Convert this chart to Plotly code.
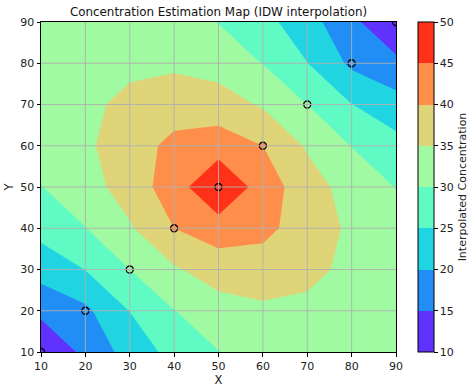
import numpy as np
import plotly.graph_objects as go

# sample points
pt_x = [10, 20, 30, 40, 50, 60, 70, 80, 90]
pt_y = [10, 20, 30, 40, 50, 60, 70, 80, 90]
pt_val = [10, 19, 30, 40, 50, 40, 30, 19, 10]
idw_power = 2.5

grid_x = [10, 20, 30, 40, 50, 60, 70, 80, 90]
grid_y = [10, 20, 30, 40, 50, 60, 70, 80, 90]
x_ticks = [10, 20, 30, 40, 50, 60, 70, 80, 90]
y_ticks = [10, 20, 30, 40, 50, 60, 70, 80, 90]
cbar_ticks = [10, 15, 20, 25, 30, 35, 40, 45, 50]
band_colors = ["rgb(96,50,254)", "rgb(32,142,244)", "rgb(32,212,225)", "rgb(96,250,197)",
               "rgb(159,250,162)", "rgb(223,212,120)", "rgb(255,142,74)", "rgb(255,50,25)"]

# IDW interpolation of the sample points onto the grid
px = np.array(pt_x, float); py = np.array(pt_y, float); pv = np.array(pt_val, float)
Z = np.zeros((len(grid_y), len(grid_x)))
for j, gy in enumerate(grid_y):
    for i, gx in enumerate(grid_x):
        d = np.sqrt((px - gx) ** 2 + (py - gy) ** 2)
        if np.any(d == 0):
            Z[j, i] = pv[d == 0][0]
        else:
            w = 1.0 / d ** idw_power
            Z[j, i] = np.sum(w * pv) / np.sum(w)

n = len(band_colors)
cs = []
for k, c in enumerate(band_colors):
    cs.append([k / n, c]); cs.append([(k + 1) / n, c])

fig = go.Figure()
fig.add_trace(go.Contour(
    x=grid_x, y=grid_y, z=Z, zmin=10, zmax=50, colorscale=cs,
    contours=dict(start=10, end=50, size=5, coloring="fill", showlines=False),
    line=dict(width=0, smoothing=0),
    colorbar=dict(thickness=16, len=1, lenmode="fraction", x=1.062, xanchor="left", xpad=0,
                  y=0.5, yanchor="middle", ypad=0,
                  tickvals=cbar_ticks, ticks="outside", ticklen=3.5, tickcolor="black",
                  tickfont=dict(size=11, color="#222"), outlinewidth=1, outlinecolor="black",
                  title=dict(text="Interpolated Concentration", side="right",
                             font=dict(size=11, color="#222"))),
    hoverinfo="skip"))
fig.add_trace(go.Scatter(
    x=pt_x, y=pt_y, mode="markers", showlegend=False, hoverinfo="skip",
    marker=dict(size=7, color=pt_val, colorscale=cs, cmin=10, cmax=50,
                line=dict(color="black", width=1.3)), cliponaxis=True))

shapes = []
for t in x_ticks[1:-1]:
    shapes.append(dict(type="line", xref="x", yref="paper", x0=t, x1=t, y0=0, y1=1,
                       line=dict(color="rgba(176,176,176,0.9)", width=1), layer="above"))
for t in y_ticks[1:-1]:
    shapes.append(dict(type="line", xref="paper", yref="y", x0=0, x1=1, y0=t, y1=t,
                       line=dict(color="rgba(176,176,176,0.9)", width=1), layer="above"))

fig.update_layout(
    width=474, height=391, margin=dict(l=41, r=78, t=22, b=39, autoexpand=False),
    paper_bgcolor="white", plot_bgcolor="white",
    font=dict(family="DejaVu Sans", size=11, color="#222"),
    title=dict(text="Concentration Estimation Map (IDW interpolation)", x=(41 + 396) / 2 / 474,
               xanchor="center", y=1 - 12 / 391, yanchor="middle", font=dict(size=11.9, color="#111")),
    shapes=shapes, showlegend=False)
fig.update_xaxes(range=[10, 90], tickvals=x_ticks, ticks="outside", ticklen=3.5, tickcolor="black",
                 showline=True, linecolor="black", linewidth=1, mirror=True, showgrid=False,
                 zeroline=False, automargin=False,
                 title=dict(text="X", standoff=2, font=dict(size=11.5)))
fig.update_yaxes(range=[10, 90], tickvals=y_ticks, ticks="outside", ticklen=3.5, tickcolor="black",
                 showline=True, linecolor="black", linewidth=1, mirror=True, showgrid=False,
                 zeroline=False, automargin=False,
                 title=dict(text="Y", standoff=4, font=dict(size=11.5)))
fig.write_html("out.html", config={"displayModeBar": False},
               post_script="document.body.style.margin='0px';")
